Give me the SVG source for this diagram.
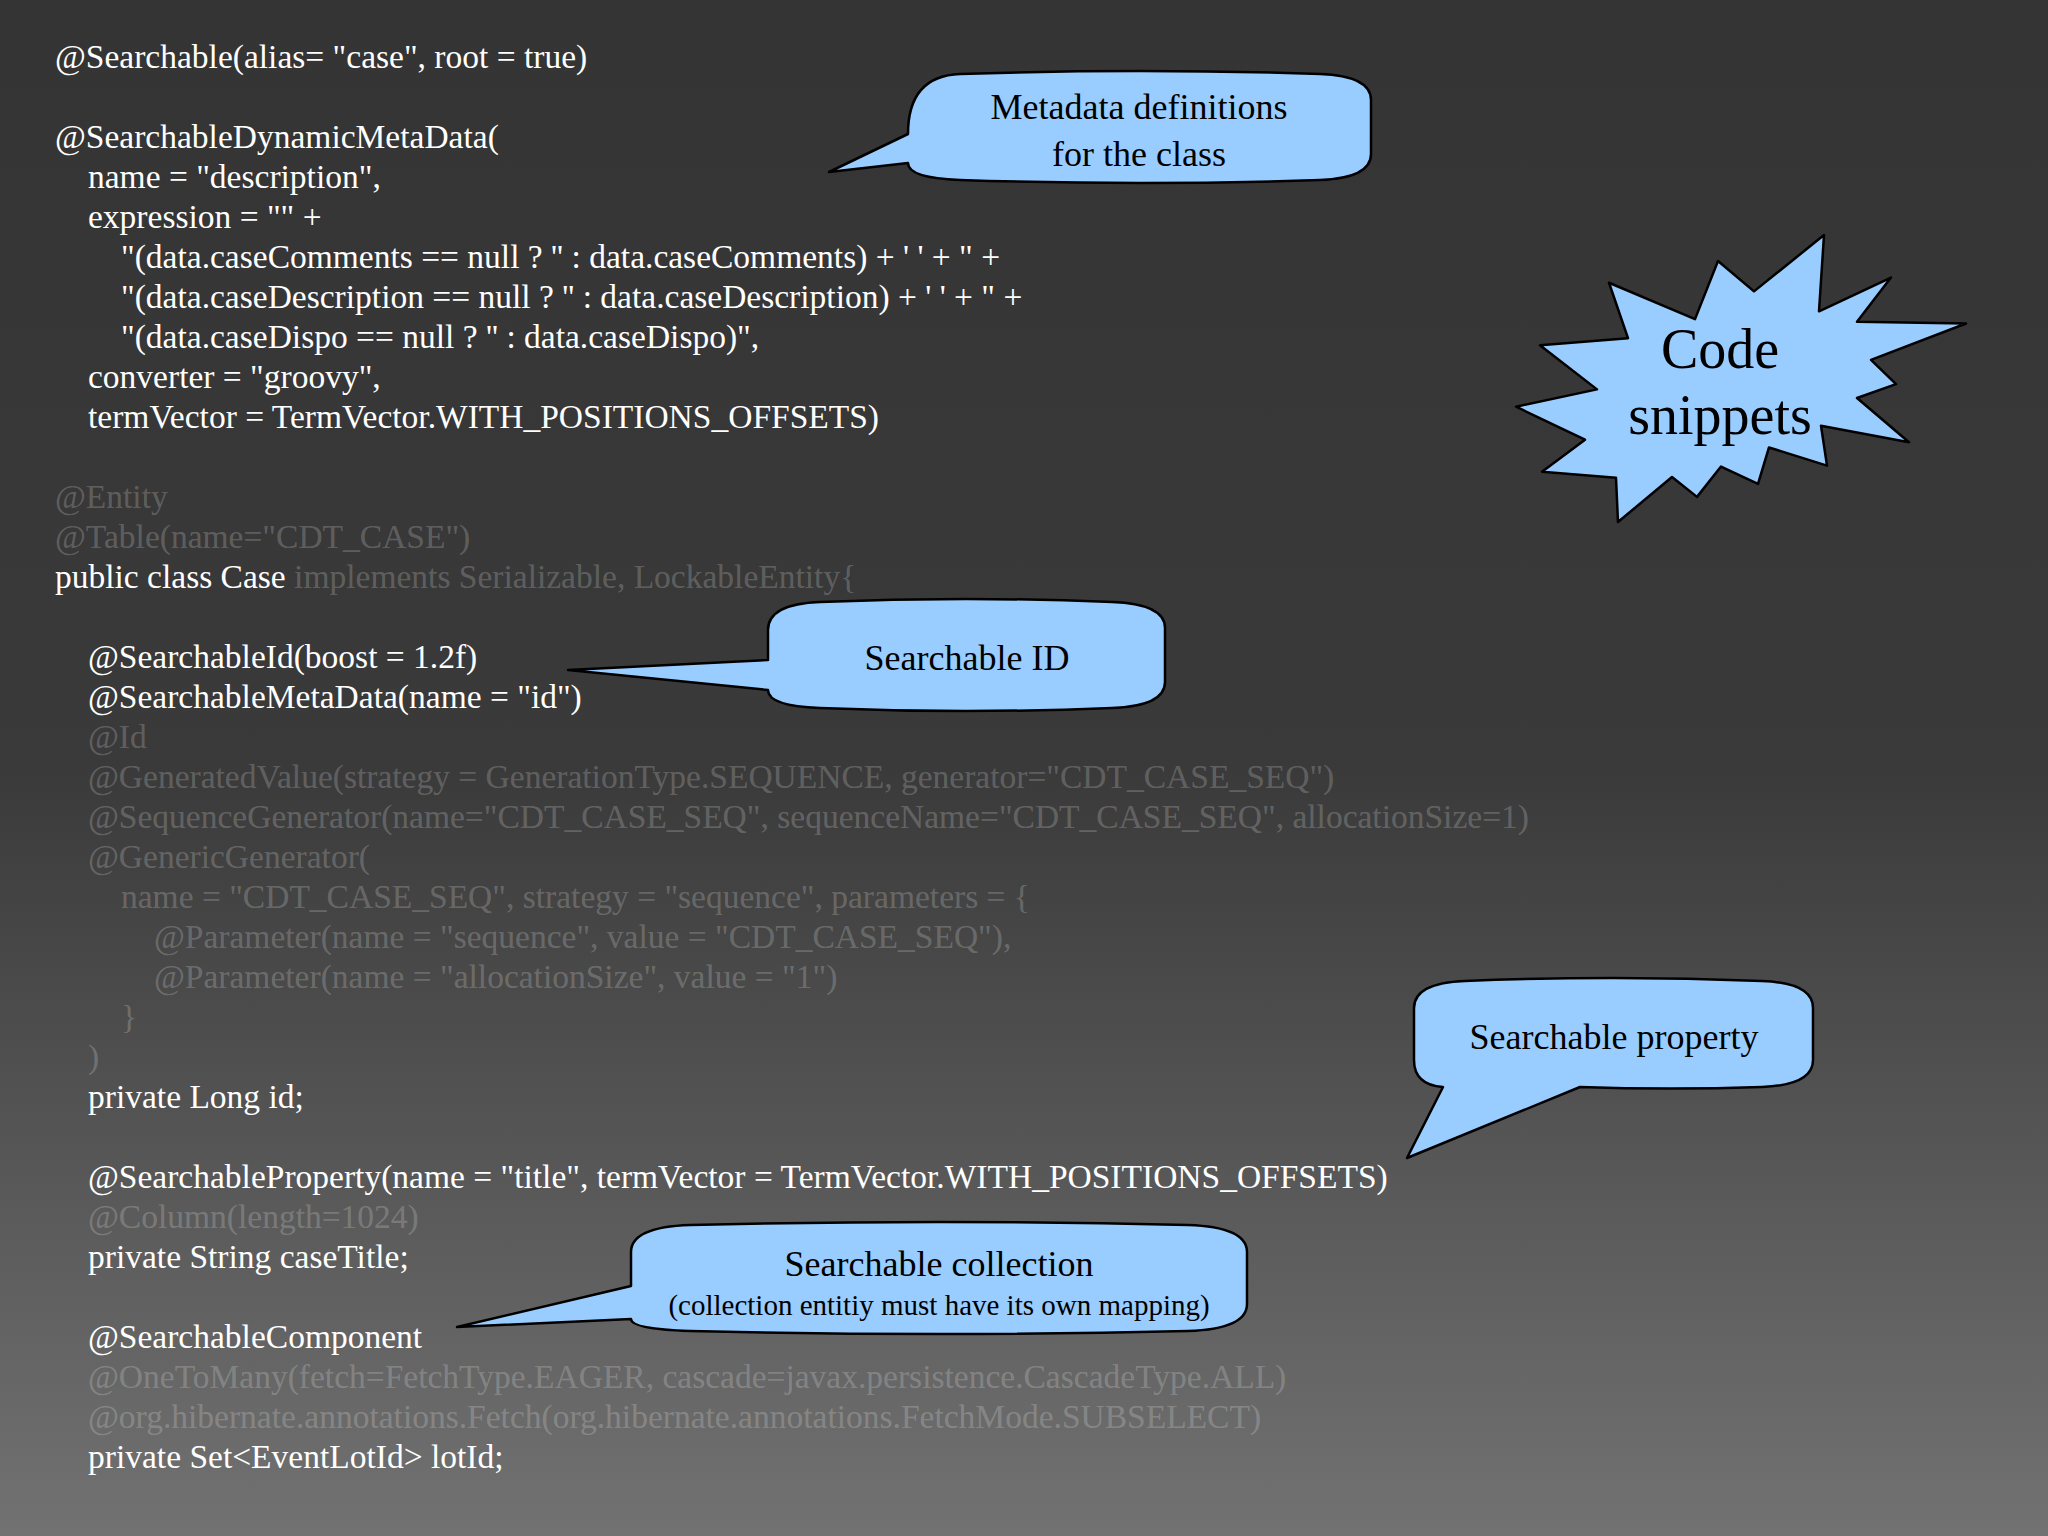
<svg xmlns="http://www.w3.org/2000/svg" width="2048" height="1536" viewBox="0 0 2048 1536">
<defs>
<linearGradient id="bg" x1="0" y1="0" x2="0" y2="1">
<stop offset="0" stop-color="#343434"/>
<stop offset="0.5" stop-color="#3a3a3a"/>
<stop offset="1" stop-color="#727272"/>
</linearGradient>
<style>
.c{font-family:"Liberation Serif","Times New Roman",serif;font-size:33.5px;fill:#ffffff}
.g{fill:#ffffff;fill-opacity:0.21}
.b{fill:#99ccff;stroke:#000;stroke-width:2.5;stroke-linejoin:round}
.t{font-family:"Liberation Serif","Times New Roman",serif;font-size:36px;fill:#000;text-anchor:middle}
.s{font-size:29px}
</style>
</defs>
<rect width="2048" height="1536" fill="url(#bg)"/>
<g id="code">
<text class="c" x="55" y="68">@Searchable(alias= "case", root = true)</text>
<text class="c" x="55" y="148">@SearchableDynamicMetaData(</text>
<text class="c" x="88" y="188">name = "description",</text>
<text class="c" x="88" y="228">expression = "" +</text>
<text class="c" x="121" y="268">"(data.caseComments == null ? '' : data.caseComments) + ' ' + " +</text>
<text class="c" x="121" y="308">"(data.caseDescription == null ? '' : data.caseDescription) + ' ' + " +</text>
<text class="c" x="121" y="348">"(data.caseDispo == null ? '' : data.caseDispo)",</text>
<text class="c" x="88" y="388">converter = "groovy",</text>
<text class="c" x="88" y="428">termVector = TermVector.WITH_POSITIONS_OFFSETS)</text>
<text class="c g" x="55" y="508">@Entity</text>
<text class="c g" x="55" y="548">@Table(name="CDT_CASE")</text>
<text class="c" x="55" y="588">public class Case <tspan class="g">implements Serializable, LockableEntity{</tspan></text>
<text class="c" x="88" y="668">@SearchableId(boost = 1.2f)</text>
<text class="c" x="88" y="708">@SearchableMetaData(name = "id")</text>
<text class="c g" x="88" y="748">@Id</text>
<text class="c g" x="88" y="788">@GeneratedValue(strategy = GenerationType.SEQUENCE, generator="CDT_CASE_SEQ")</text>
<text class="c g" x="88" y="828">@SequenceGenerator(name="CDT_CASE_SEQ", sequenceName="CDT_CASE_SEQ", allocationSize=1)</text>
<text class="c g" x="88" y="868">@GenericGenerator(</text>
<text class="c g" x="121" y="908">name = "CDT_CASE_SEQ", strategy = "sequence", parameters = {</text>
<text class="c g" x="154" y="948">@Parameter(name = "sequence", value = "CDT_CASE_SEQ"),</text>
<text class="c g" x="154" y="988">@Parameter(name = "allocationSize", value = "1")</text>
<text class="c g" x="121" y="1028">}</text>
<text class="c g" x="88" y="1068">)</text>
<text class="c" x="88" y="1108">private Long id;</text>
<text class="c" x="88" y="1188">@SearchableProperty(name = "title", termVector = TermVector.WITH_POSITIONS_OFFSETS)</text>
<text class="c g" x="88" y="1228">@Column(length=1024)</text>
<text class="c" x="88" y="1268">private String caseTitle;</text>
<text class="c" x="88" y="1348">@SearchableComponent</text>
<text class="c g" x="88" y="1388">@OneToMany(fetch=FetchType.EAGER, cascade=javax.persistence.CascadeType.ALL)</text>
<text class="c g" x="88" y="1428">@org.hibernate.annotations.Fetch(org.hibernate.annotations.FetchMode.SUBSELECT)</text>
<text class="c" x="88" y="1468">private Set&lt;EventLotId&gt; lotId;</text>
</g>
<g id="burst">
<polygon class="b" vector-effect="non-scaling-stroke" transform="translate(0,28.7) scale(1,0.867)" points="1609,293 1695,335 1718,268 1754,303 1824,238 1819,326 1891,287 1857,338 1966,340 1871,382 1896,410 1857,426 1909,477 1821,458 1827,504 1769,483 1758,525 1721,505 1697,540 1672,517 1618,569 1616,518 1542,511 1585,474 1516,436 1597,416 1540,365 1628,357"/>
<text class="t" x="1720" y="368" style="font-size:56px">Code</text>
<text class="t" x="1720" y="434" style="font-size:56px">snippets</text>
</g>
<g id="metadata">
<path class="b" d="M908,134 Q908,76 960,74 Q1140,68 1320,74 Q1371,76 1371,100 L1371,154 Q1371,178 1320,180 Q1140,186 960,180 Q908,178 908,163 L829,172 Z"/>
<text class="t" x="1139" y="119">Metadata definitions</text>
<text class="t" x="1139" y="166">for the class</text>
</g>
<g id="searchable-id">
<path class="b" d="M768,660 L768,630 Q768,604 820,602 Q966,596 1112,602 Q1165,604 1165,628 L1165,682 Q1165,706 1112,708 Q966,714 820,708 Q768,706 768,690 L568,670 Z"/>
<text class="t" x="967" y="670">Searchable ID</text>
</g>
<g id="searchable-property">
<path class="b" d="M1443,1087 Q1414,1085 1414,1060 L1414,1008 Q1414,983 1465,981 Q1613,975 1762,981 Q1813,983 1813,1008 L1813,1060 Q1813,1085 1762,1087 Q1670,1090 1580,1087 L1407,1158 Z"/>
<text class="t" x="1614" y="1049">Searchable property</text>
</g>
<g id="searchable-collection">
<path class="b" d="M631,1286 L631,1252 Q631,1227 690,1225 Q939,1219 1188,1225 Q1247,1227 1247,1252 L1247,1304 Q1247,1329 1188,1331 Q939,1337 690,1331 Q631,1329 631,1319 L457,1327 Z"/>
<text class="t" x="939" y="1276">Searchable collection</text>
<text class="t s" x="939" y="1315">(collection entitiy must have its own mapping)</text>
</g>
</svg>
